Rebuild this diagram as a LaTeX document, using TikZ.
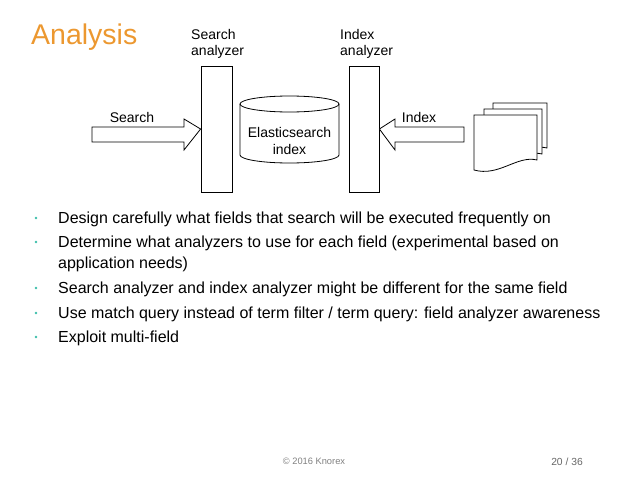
\documentclass[tikz,border=0pt]{standalone}
\usepackage{fontspec}
\setmainfont{Liberation Sans}
\usetikzlibrary{positioning}
\definecolor{titleorange}{RGB}{236,152,48}
\definecolor{bullteal}{RGB}{60,190,170}
\begin{document}
\begin{tikzpicture}[
    x=1pt, y=-1pt,
    box_style/.style={draw, fill=white, line width=0.8pt},
    label_style/.style={font=\fontsize{14}{16}\selectfont, align=left, anchor=north west, inner sep=0pt},
    item_style/.style={font=\fontsize{16}{19}\selectfont, anchor=base west, inner sep=0pt},
    dot_style/.style={circle, fill=bullteal, inner sep=0pt, minimum size=2.8pt}
]
    \useasboundingbox (0,0) rectangle (638,479);

    % Title
    \node[font=\fontsize{28.5}{32}\selectfont, text=titleorange, anchor=base west, inner sep=0pt] (title) at (31,44) {Analysis};

    % Analyzers
    \node[box_style, minimum width=31pt, minimum height=126pt, inner sep=0pt] (sa) at (216.5,129) {};
    \node[box_style, minimum width=30pt, minimum height=126pt, inner sep=0pt] (ia) at (364,129) {};
    \node[label_style] (salabel) at (191,29) {Search\\analyzer};
    \node[label_style] (ialabel) at (340,29) {Index\\analyzer};

    % Index cylinder
    \draw[line width=0.8pt] (240,104) -- (240,155) arc[start angle=180, end angle=360, x radius=49.5pt, y radius=8pt] -- (339,104);
    \draw[line width=0.8pt] (289.5,104) ellipse[x radius=49.5pt, y radius=8pt];
    \node[font=\fontsize{14}{17}\selectfont, align=center] (es) at (289.5,141) {Elasticsearch\\index};

    % Search arrow
    \coordinate (stip) at (sa.west);
    \draw[line width=0.8pt, fill=white] (92,127) -- (184,127) -- (184,119) -- (stip) -- (184,150) -- (184,142) -- (92,142) -- cycle;
    \node[label_style, anchor=base] (slabel) at (132,122) {Search};

    % Index arrow
    \coordinate (itip) at (ia.east);
    \draw[line width=0.8pt, fill=white] (464,127) -- (395,127) -- (395,119) -- (itip) -- (395,150) -- (395,142) -- (464,142) -- cycle;
    \node[label_style, anchor=base] (ilabel) at (419,122) {Index};

    % Documents
    \foreach \l/\r/\t in {493/547/103, 484/542/109, 474/537/115}{
        \draw[line width=0.8pt, fill=white] (\l,\t) -- (\r,\t) -- (\r,\t+45)
            .. controls (\r-20,\t+40) and (\l+25,\t+62) .. (\l,\t+55) -- cycle;
    }

    % Bullets
    \foreach \y/\t in {
        223/{Design carefully what fields that search will be executed frequently on},
        247/{Determine what analyzers to use for each field (experimental based on},
        293/{Search analyzer and index analyzer might be different for the same field},
        318/{Use match query instead of term filter / term query: field analyzer awareness},
        342/{Exploit multi-field}}{
        \node[dot_style] at (36,\y-5) {};
        \node[item_style] at (58,\y) {\t};
    }
    \node[item_style] (cont) at (58,268) {application needs)};

    % Footer
    \node[font=\fontsize{9.3}{11}\selectfont, text=gray] (copy) at (314,461) {\textcopyright{} 2016 Knorex};
    \node[font=\fontsize{10.3}{12}\selectfont, text=gray!80!black] (page) at (567,462) {20 / 36};
\end{tikzpicture}
\end{document}
